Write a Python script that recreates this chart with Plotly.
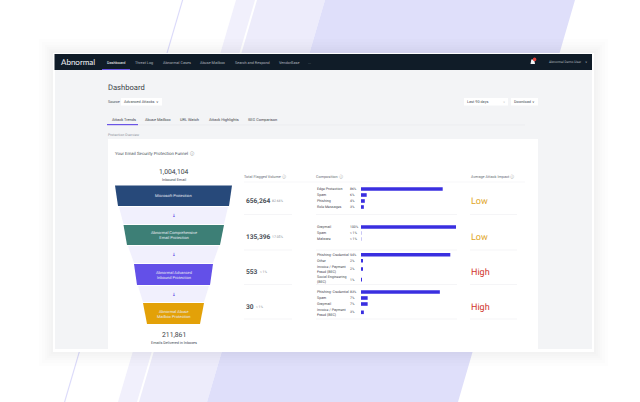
import plotly.graph_objects as go

# Funnel
funnel_stages = ["Microsoft Protection",
                 "Abnormal Comprehensive<br>Email Protection",
                 "Abnormal Advanced<br>Inbound Protection",
                 "Abnormal Abuse<br>Mailbox Protection"]
funnel_colors = ["#27497a", "#3d7f76", "#6350e8", "#e3a108"]
flagged_volume = ["656,264", "135,396", "553", "30"]
flagged_share = ["82.64%", "17.05%", "< 1%", "< 1%"]
impact = ["Low", "Low", "High", "High"]
inbound_total = "1,004,104"
delivered_total = "211,861"

# Composition
group_labels = [
    ["Edge Protection", "Spam", "Phishing", "Role Messages"],
    ["Graymail", "Spam", "Malware"],
    ["Phishing: Credential", "Other", "Invoice / Payment<br>Fraud (BEC)", "Social Engineering<br>(BEC)"],
    ["Phishing: Credential", "Spam", "Graymail", "Invoice / Payment<br>Fraud (BEC)"],
]
group_values = [
    [86, 6, 4, 3],
    [100, 0.6, 0.6],
    [94, 2, 2, 1],
    [83, 7, 7, 3],
]
group_text = [
    ["86%", "6%", "4%", "3%"],
    ["100%", "< 1%", "< 1%"],
    ["94%", "2%", "2%", "1%"],
    ["83%", "7%", "7%", "3%"],
]

nav_items = ["Dashboard", "Threat Log", "Abnormal Cases", "Abuse Mailbox", "Search and Respond", "VendorBase", "..."]
tab_items = ["Attack Trends", "Abuse Mailbox", "URL Watch", "Attack Highlights", "SEG Comparison"]

W, H = 640, 402
FONT = "Roboto, Inter, sans-serif"
shapes = []
notes = []


def rect(x0, y0, x1, y1, color):
    shapes.append(dict(type="rect", xref="x", yref="y", x0=x0, y0=y0, x1=x1, y1=y1,
                       fillcolor=color, line_width=0, layer="below"))


def poly(pts, color):
    path = "M" + " L".join(f"{a},{b}" for a, b in pts) + " Z"
    shapes.append(dict(type="path", xref="x", yref="y", path=path,
                       fillcolor=color, line_width=0, layer="below"))


def hline(x0, x1, y, color="#f0f1f4"):
    shapes.append(dict(type="line", xref="x", yref="y", x0=x0, x1=x1, y0=y, y1=y,
                       line=dict(color=color, width=0.7), layer="below"))


def label(x, y, s, size=4, color="#555b66", anchor="left", family=FONT, bold=False):
    if bold:
        s = f"<b>{s}</b>"
    notes.append(dict(x=x, y=y, xref="x", yref="y", text=s, showarrow=False,
                      xanchor=anchor, yanchor="middle", align=anchor, borderpad=0, borderwidth=0,
                      font=dict(size=size, color=color, family=family)))


# background bands
poly([(236, 0), (255, 0), (137, H), (118, H)], "#f1f0fc")
poly([(257, 0), (325, 0), (207, H), (139, H)], "#edecfb")
poly([(325, 0), (575, 0), (458, H), (207, H)], "#dfdffa")
poly([(182, 0), (183.2, 0), (65.2, H), (64, H)], "#dcdbfa")

# window with soft shadow
for grow in [14, 11, 8, 6, 4, 2]:
    rect(53 - grow, 53 - grow, 594 + grow, 352 + grow, "rgba(70,70,110,0.012)")
rect(53, 53, 594, 352, "#ffffff")
rect(55, 70, 592, 349, "#f3f4f6")
rect(54.5, 54, 592, 70, "#101c28")
rect(108, 139, 538, 349, "#ffffff")

# nav bar
label(61, 62, "Abnormal", size=8, color="#f2f4f6", family="Lato, sans-serif")
nav_x = [106.5, 135, 163, 200, 235, 279, 308]
for i, (x, s) in enumerate(zip(nav_x, nav_items)):
    label(x, 62, s, size=3.8, color="#ffffff" if i == 0 else "#aeb4bc")
rect(102, 69, 130, 70, "#6a55e6")
poly([(530.5, 64), (535, 64), (534.2, 59.5), (531.3, 59.5)], "#f4f4f6")
shapes.append(dict(type="circle", xref="x", yref="y", x0=532.8, x1=536.4, y0=57.6, y1=61.2,
                   fillcolor="#e0403a", line_width=0, layer="below"))
label(549, 62, "Abnormal Demo User", size=3.4, color="#aeb4bc")
label(585, 62, "∨", size=3.2, color="#aeb4bc")

# page header
label(108, 87.5, "Dashboard", size=7.6, color="#3a3f48")
label(108, 101.5, "Source", size=3.8, color="#444a54")
rect(121, 98, 162, 105.5, "#ffffff")
label(124, 101.7, "Advanced Attacks", size=3.8, color="#444a54")
label(156, 101.7, "∨", size=3.5, color="#666")
rect(464, 98, 508, 105.5, "#ffffff")
label(467, 101.7, "Last 90 days", size=3.8, color="#444a54")
label(503, 101.7, "∨", size=3, color="#bbb")
rect(511, 98, 538, 105.5, "#ffffff")
label(514, 101.7, "Download", size=3.8, color="#444a54")
label(532, 101.7, "∨", size=3.5, color="#666")

# tabs
tab_x = [112, 145, 180, 209, 248]
for i, (x, s) in enumerate(zip(tab_x, tab_items)):
    label(x, 119, s, size=3.9, color="#3a3f48")
hline(108, 525, 125, "#e9eaee")
rect(107, 124, 138, 125.2, "#6a55e6")
label(108, 134.5, "Protection Overview", size=3.5, color="#8b9099")

# card header
label(115, 153.5, "Your Email Security Protection Funnel", size=4.4, color="#4a4f58")
label(189.5, 153.5, "ⓘ", size=4.2, color="#777", family="DejaVu Sans")

# funnel
trap_y = [(185.5, 206), (225, 245), (264, 285), (303, 324)]
trap_top = [(115, 232), (123.5, 224), (134, 213), (143, 204)]
trap_bot = [(118, 229), (127, 220), (137, 210), (147, 200)]
for i in range(3):
    # light connector between two stages
    poly([(trap_bot[i][0] + 1, trap_y[i][1] + 1), (trap_bot[i][1] - 1, trap_y[i][1] + 1),
          (trap_top[i + 1][1], trap_y[i + 1][0] - 1), (trap_top[i + 1][0], trap_y[i + 1][0] - 1)], "#f1f0fd")
    arrow_y = (trap_y[i][1] + trap_y[i + 1][0]) / 2
    label(173.5, arrow_y, "↓", size=4.5, color="#6350e8", anchor="center", family="DejaVu Sans", bold=True)
for i in range(4):
    (y0, y1), (a, b), (c, d) = trap_y[i], trap_top[i], trap_bot[i]
    poly([(a, y0), (b, y0), (d, y1), (c, y1)], funnel_colors[i])
    label(173.5, (y0 + y1) / 2, funnel_stages[i], size=4, color="#e8ebf2", anchor="center")
label(173.5, 172, inbound_total, size=6.8, color="#3a3f48", anchor="center")
label(173.5, 179.5, "Inbound Email", size=3.8, color="#444a54", anchor="center")
label(173.5, 335, delivered_total, size=6.8, color="#3a3f48", anchor="center")
label(173.5, 342, "Emails Delivered in Inboxes", size=3.8, color="#444a54", anchor="center")

# table headers
label(244, 176, "Total Flagged Volume", size=3.8, color="#666b74")
label(281.5, 176, "ⓘ", size=4, color="#888", family="DejaVu Sans")
label(316, 176, "Composition", size=3.8, color="#666b74")
label(338.5, 176, "ⓘ", size=4, color="#888", family="DejaVu Sans")
label(471, 176, "Average Attack Impact", size=3.8, color="#666b74")
label(509.5, 176, "ⓘ", size=4, color="#888", family="DejaVu Sans")
hline(244, 525, 182, "#f3f4f6")

# table rows
row_mid = [201, 236.5, 271.5, 306.5]
row_line = [214.5, 250, 284.5, 319]
first_row = [189, 227, 254.7, 292]
impact_colors = {"Low": "#e0a526", "High": "#d0342c"}
bar_y, bar_x, bar_c = [], [], []
for g in range(4):
    label(246, row_mid[g], flagged_volume[g], size=6.6, color="#4a4f58", bold=True)
    share_x = 250 + len(flagged_volume[g]) * 3.2
    label(share_x, row_mid[g], flagged_share[g], size=3.4, color="#8b9099")
    label(471, row_mid[g], impact[g], size=9, color=impact_colors[impact[g]])
    hline(244, 292, row_line[g])
    hline(316, 457, row_line[g])
    hline(470, 517, row_line[g])

    y = first_row[g]
    prev_h = None
    for lab, val, txt in zip(group_labels[g], group_values[g], group_text[g]):
        h = 10.6 if "<br>" in lab else 6
        if prev_h is not None:
            y += (prev_h + h) / 2
        prev_h = h
        label(317, y, lab, size=3.6, color="#3f444d")
        label(350, y, txt, size=3.4, color="#3f444d")
        bar_y.append(y)
        bar_x.append(val)
        bar_c.append("#c9c6f6" if val < 1 else "#3a2fe0")

fig = go.Figure()
fig.add_trace(go.Bar(x=bar_x, y=bar_y, orientation="h", width=3.6,
                     marker=dict(color=bar_c, line_width=0),
                     xaxis="x2", yaxis="y", hoverinfo="skip", showlegend=False))
fig.update_layout(
    width=W, height=H,
    margin=dict(l=0, r=0, t=0, b=0),
    paper_bgcolor="#ffffff",
    plot_bgcolor="rgba(0,0,0,0)",
    showlegend=False,
    shapes=shapes,
    annotations=notes,
    xaxis=dict(domain=[0, 1], range=[0, W], visible=False, fixedrange=True),
    yaxis=dict(domain=[0, 1], range=[H, 0], visible=False, fixedrange=True),
    xaxis2=dict(domain=[361 / W, 456 / W], range=[0, 100], anchor="y", visible=False, fixedrange=True),
)
# body margin off, and smooth tiny text
fig.write_html("out.html", config=dict(displayModeBar=False),
               post_script="document.body.style.margin='0';"
                           "var s=document.createElement('style');"
                           "s.textContent='text{text-rendering:geometricPrecision}';"
                           "document.head.appendChild(s);")
